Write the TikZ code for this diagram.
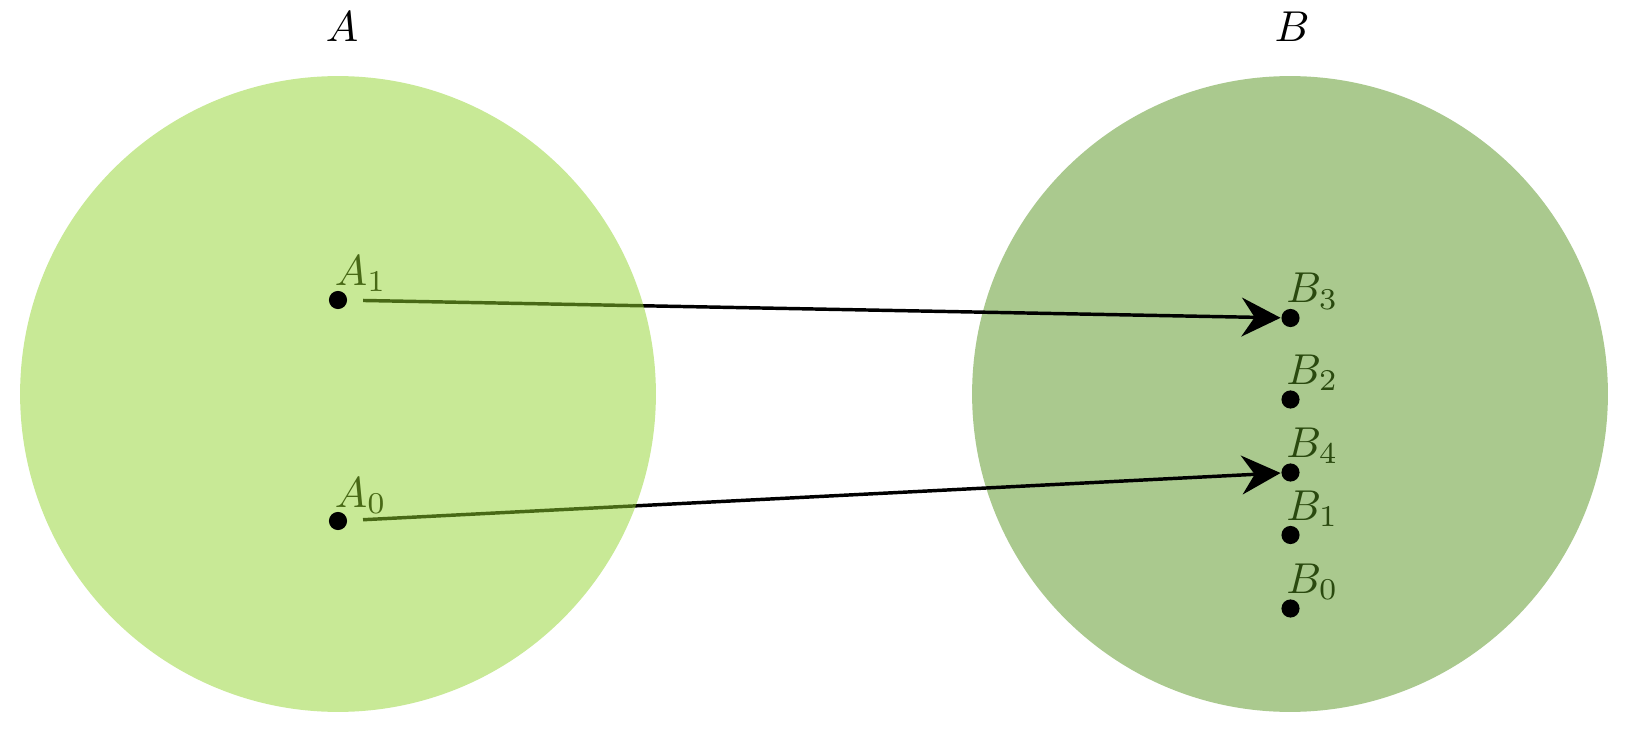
\documentclass[tikz,border=0pt]{standalone}
\usetikzlibrary{arrows.meta}
\pgfdeclarelayer{lbl}
\pgfdeclarelayer{circB}
\pgfdeclarelayer{arr}
\pgfdeclarelayer{circA}
\pgfsetlayers{lbl,circB,arr,circA,main}
\definecolor{setA}{RGB}{145,211,45}
\definecolor{setB}{RGB}{85,147,30}
\tikzset{
  pt/.style={circle,fill=black,inner sep=0pt,minimum size=4.2pt},
  elem/.style={anchor=base west,inner sep=0pt},
  title/.style={anchor=base,inner sep=0pt},
  setcirc/.style={circle,inner sep=0pt,minimum size=147.2pt,fill opacity=0.5},
  maparrow/.style={line width=0.8pt,-{Stealth[length=9pt,width=9pt,inset=3pt]},shorten <=3.5pt}
}
\begin{document}
\begin{tikzpicture}[x=0.2315pt,y=-0.2315pt]
\useasboundingbox (0,0) rectangle (1639,750);
% points
\node[pt] (A1) at (338,300) {};
\node[pt] (A0) at (338,521) {};
\node[pt] (B3) at (1290.5,318) {};
\node[pt] (B2) at (1290.5,399.5) {};
\node[pt] (B4) at (1290.5,472.5) {};
\node[pt] (B1) at (1290.5,535) {};
\node[pt] (B0) at (1290.5,608.5) {};
% titles
\node[title] (tA) at (342,42) {$A$};
\node[title] (tB) at (1292,42) {$B$};
\begin{pgfonlayer}{lbl}
  \node[elem] (lA1) at ([shift={(-4,-15)}]A1.center) {$A_1$};
  \node[elem] (lA0) at ([shift={(-4,-14)}]A0.center) {$A_0$};
  \node[elem] (lB3) at ([shift={(-5,-15)}]B3.center) {$B_3$};
  \node[elem] (lB2) at ([shift={(-5,-15)}]B2.center) {$B_2$};
  \node[elem] (lB4) at ([shift={(-5,-15)}]B4.center) {$B_4$};
  \node[elem] (lB1) at ([shift={(-5,-15)}]B1.center) {$B_1$};
  \node[elem] (lB0) at ([shift={(-5,-15)}]B0.center) {$B_0$};
\end{pgfonlayer}
\begin{pgfonlayer}{circB}
  \node[setcirc,fill=setB] (SB) at (1290,394) {};
\end{pgfonlayer}
\begin{pgfonlayer}{arr}
  \draw[maparrow] (A1) -- (B3);
  \draw[maparrow] (A0) -- (B4);
\end{pgfonlayer}
\begin{pgfonlayer}{circA}
  \node[setcirc,fill=setA] (SA) at (338,394) {};
\end{pgfonlayer}
\end{tikzpicture}
\end{document}
